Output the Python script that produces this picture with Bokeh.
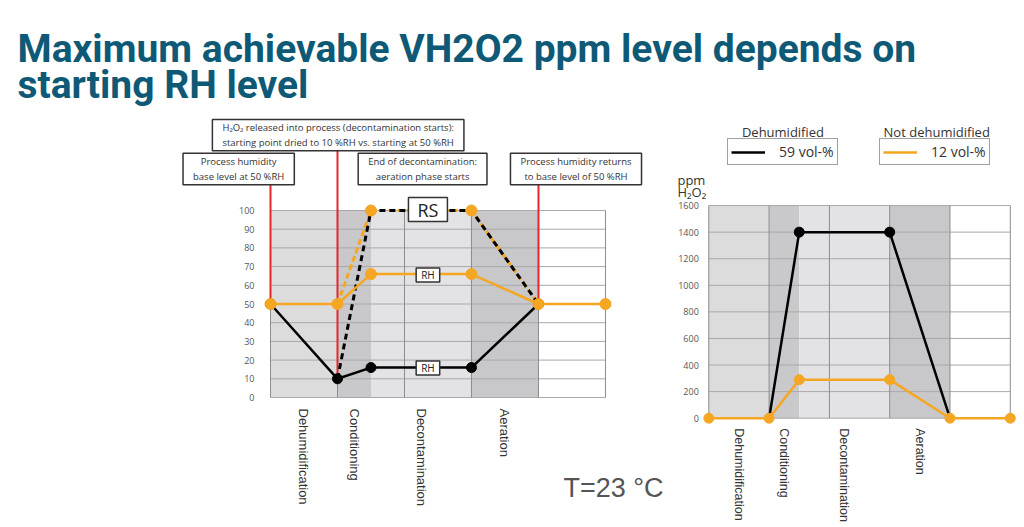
import numpy as np
from bokeh.plotting import figure
from bokeh.models import Range1d, FixedTicker, Label, Legend, LegendItem
from bokeh.layouts import column, row
from bokeh.core.properties import value
from bokeh.embed import file_html
from bokeh.resources import INLINE

# phases along the time axis (shared by both charts)
phase_names = ["Dehumidification", "Conditioning", "Decontamination", "Aeration"]
phase_label_x = [0.5, 1.25, 2.25, 3.5]
band_left = [0, 1, 1.5, 3, 4]
band_right = [1, 1.5, 3, 4, 5]
band_colors = ["#dcdcdd", "#c9c9cb", "#e3e3e5", "#c8c8ca", "#ffffff"]
grid_x = [0, 1, 2, 3, 4, 5]

# left chart: relative humidity / relative saturation in %
rh_ticks = list(range(0, 101, 10))
rh_dry_t = [0, 1, 1.5, 3, 4]
rh_dry = [50, 10, 16, 16, 50]
rs_dry_t = [1, 1.5, 3, 4]
rs_dry = [10, 100, 100, 50]
rh_wet_t = [0, 1, 1.5, 3, 4, 5]
rh_wet = [50, 50, 66, 66, 50, 50]
rs_wet_t = [1, 1.5, 3, 4]
rs_wet = [50, 100, 100, 50]
event_x = [0, 1, 4]
event_top = [115, 134, 115]
event_bottom = [50, 10, 50]

# right chart: ppm H2O2
ppm_ticks = list(range(0, 1601, 200))
ppm_dry_t = [1, 1.5, 3, 4]
ppm_dry = [0, 1400, 1400, 0]
ppm_wet_t = [0, 1, 1.5, 3, 4, 5]
ppm_wet = [0, 0, 290, 290, 0, 0]

ORANGE = "#f5a623"
RED = "#e8262a"
TITLE = "#0e5a76"
SANS = "'Open Sans', sans-serif"
ARIAL = "'Liberation Sans', Arial, sans-serif"


def base_figure(width, height, x_range, y_range):
    p = figure(width=width, height=height, x_range=x_range, y_range=y_range,
               output_backend="svg", toolbar_location=None, min_border=0,
               outline_line_color=None, background_fill_color="white",
               border_fill_color="white")
    p.xgrid.visible = False
    p.ygrid.visible = False
    return p


def style_axes(p, y_ticks, x_size, x_standoff, y_standoff):
    p.xaxis.fixed_location = 0
    p.yaxis.fixed_location = 0
    p.xaxis.ticker = FixedTicker(ticks=phase_label_x)
    p.xaxis.major_label_overrides = {x: n for x, n in zip(phase_label_x, phase_names)}
    p.xaxis.major_label_orientation = -np.pi / 2
    p.xaxis.major_label_text_font = ARIAL
    p.xaxis.major_label_text_font_size = x_size
    p.xaxis.major_label_text_color = "#333333"
    p.xaxis.major_label_standoff = x_standoff
    p.yaxis.ticker = FixedTicker(ticks=y_ticks)
    p.yaxis.major_label_text_font = SANS
    p.yaxis.major_label_text_font_size = "9px"
    p.yaxis.major_label_text_color = "#555555"
    p.yaxis.major_label_standoff = y_standoff
    for ax in (p.xaxis, p.yaxis):
        ax.axis_line_color = None
        ax.major_tick_line_color = None
        ax.minor_tick_line_color = None


def backdrop(p, top, y_ticks):
    p.quad(left=band_left, right=band_right, bottom=0, top=top,
           fill_color=band_colors, line_color=None)
    p.segment(x0=0, x1=5, y0=y_ticks, y1=y_ticks, line_color="#a9a9ab", line_width=1)
    p.segment(x0=grid_x, x1=grid_x, y0=0, y1=top, line_color="#8c8c8e", line_width=1)


# ---------------- title ----------------
title = base_figure(1016, 116, Range1d(0, 1016), Range1d(116, 0))
title.axis.visible = False
title.text(x=[17, 17], y=[48, 84],
           text=["Maximum achievable VH2O2 ppm level depends on", "starting RH level"],
           text_font=value("Roboto, sans-serif"),
           text_font_style="bold", text_font_size="39px", text_color=TITLE,
           text_baseline="alphabetic")

# ---------------- left chart (%RH / %RS) ----------------
left = base_figure(665, 408, Range1d(-4.030, 5.896), Range1d(-67.91, 150.27))
style_axes(left, rh_ticks, "13px", 5, 10)
backdrop(left, 100, rh_ticks)

left.segment(x0=event_x, x1=event_x, y0=event_bottom, y1=event_top,
             line_color=RED, line_width=2)
left.line(rs_wet_t, rs_wet, line_color=ORANGE, line_width=3, line_dash="6 3")
left.line(rs_dry_t, rs_dry, line_color="black", line_width=3, line_dash="6 4")
left.line(rh_dry_t, rh_dry, line_color="black", line_width=2.5)
left.line(rh_wet_t, rh_wet, line_color=ORANGE, line_width=2.5)
left.scatter(rh_dry_t, rh_dry, size=10, color="black")
left.scatter(rh_wet_t, rh_wet, size=11, color=ORANGE)
left.scatter(rs_wet_t[1:3], rs_wet[1:3], size=11, color=ORANGE)

box_style = dict(text_align="center", text_baseline="middle", text_font=SANS,
                 text_font_size="9.5px", text_color="#333333", text_line_height=1.1,
                 border_line_color="#333333", border_line_width=1.5,
                 background_fill_color="white",
                 padding=dict(left=10, right=10, top=2, bottom=2))
notes = [
    (-0.475, 122.2, "Process humidity\nbase level at 50 %RH"),
    (1.01, 140.3, "H\u2082O\u2082 released into process (decontamination starts):\n"
                  "starting point dried to 10 %RH vs. starting at 50 %RH"),
    (2.27, 122.2, "End of decontamination:\naeration phase starts"),
    (4.56, 122.2, "Process humidity returns\nto base level of 50 %RH"),
]
for nx, ny, txt in notes:
    left.add_layout(Label(x=nx, y=ny, text=txt, **box_style))

tag_style = dict(text_align="center", text_baseline="middle", text_font=SANS,
                 text_color="#222222", border_line_color="#333333",
                 border_line_width=1.5, background_fill_color="white")
left.add_layout(Label(x=2.35, y=100.5, text="RS", text_font_size="18px",
                      padding=dict(left=9, right=9, top=0, bottom=0), **tag_style))
left.add_layout(Label(x=2.35, y=65.5, text="RH", text_font_size="10px",
                      padding=dict(left=5, right=5, top=0, bottom=0), **tag_style))
left.add_layout(Label(x=2.35, y=15.8, text="RH", text_font_size="10px",
                      padding=dict(left=5, right=5, top=0, bottom=0), **tag_style))

left.text(x=[4.373], y=[-48.3], text=["T=23 \u00b0C"], text_font=value(ARIAL),
          text_font_size="27px", text_color="#555555", text_baseline="alphabetic")

# ---------------- right chart (ppm H2O2) ----------------
right = base_figure(351, 408, Range1d(-0.718, 5.103), Range1d(-799.8, 2270.1))
style_axes(right, ppm_ticks, "12.5px", 4, 4)
backdrop(right, 1600, ppm_ticks)

r_dry = right.line(ppm_dry_t, ppm_dry, line_color="black", line_width=2.5)
r_wet = right.line(ppm_wet_t, ppm_wet, line_color=ORANGE, line_width=2.5)
right.scatter(ppm_dry_t[1:3], ppm_dry[1:3], size=10, color="black")
right.scatter(ppm_wet_t, ppm_wet, size=10, color=ORANGE)

right.text(x=[-0.52, -0.52], y=[1793, 1703], text=["ppm", "H\u2082O\u2082"],
           text_font=value(SANS), text_font_size="13px", text_color="#333333",
           text_baseline="alphabetic")
right.text(x=[1.23, 3.78], y=[2154, 2154], text=["Dehumidified", "Not dehumidified"],
           text_font=value(SANS), text_font_size="13px", text_color="#333333",
           text_align="center", text_baseline="alphabetic")

for item, loc in ((LegendItem(label="59 vol-%", renderers=[r_dry]), (62, 359)),
                  (LegendItem(label="12 vol-%", renderers=[r_wet]), (214, 359))):
    right.add_layout(Legend(items=[item], location=loc, margin=0, padding=3,
                            border_line_color="#444444", border_line_width=1.5,
                            background_fill_alpha=1, label_text_font=SANS,
                            label_text_font_size="14px", label_text_color="#333333",
                            glyph_width=34, glyph_height=12, label_height=12,
                            label_standoff=14))

p = column(title, row(left, right))
open("out.html", "w").write(file_html(p, INLINE))
